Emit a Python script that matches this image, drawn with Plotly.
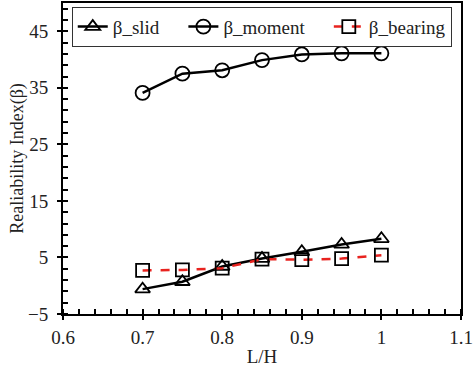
import plotly.graph_objects as go

lh = [0.7, 0.75, 0.8, 0.85, 0.9, 0.95, 1.0]
beta_slid = [-0.6, 0.7, 3.4, 4.8, 6.0, 7.3, 8.3]
beta_moment = [34.1, 37.5, 38.1, 39.9, 40.9, 41.1, 41.1]
beta_bearing = [2.7, 2.8, 3.1, 4.7, 4.6, 4.8, 5.4]

x_ticks = [0.6, 0.7, 0.8, 0.9, 1.0, 1.1]
x_labels = ["0.6", "0.7", "0.8", "0.9", "1", "1.1"]
y_ticks = [-5, 5, 15, 25, 35, 45]

FONT = "Times, serif"
TXT = "#222"

fig = go.Figure()
fig.add_trace(go.Scatter(
    x=lh, y=beta_slid, name="β_slid    ", mode="lines+markers",
    line=dict(color="black", width=2.5),
    marker=dict(symbol="triangle-up-open", size=13, color="black", line=dict(width=1.8))))
fig.add_trace(go.Scatter(
    x=lh, y=beta_moment, name="β_moment    ", mode="lines+markers",
    line=dict(color="black", width=2.5),
    marker=dict(symbol="circle-open", size=14, color="black", line=dict(width=1.8))))
fig.add_trace(go.Scatter(
    x=lh, y=beta_bearing, name="β_bearing", mode="lines+markers",
    line=dict(color="#e8231f", width=2.5, dash="dash"),
    marker=dict(symbol="square-open", size=13, color="black", line=dict(width=1.8))))

axis_common = dict(showgrid=False, zeroline=False, showline=True, linecolor="black",
                   linewidth=2, mirror=True, tickcolor="black", tickwidth=1.5,
                   tickfont=dict(family=FONT, size=19, color=TXT))

fig.update_layout(
    width=474, height=368,
    margin=dict(l=63, r=13, t=1, b=54),
    paper_bgcolor="white", plot_bgcolor="white",
    font=dict(family=FONT, size=19, color=TXT),
    showlegend=True,
    legend=dict(orientation="h", x=0.022, y=0.988, xanchor="left", yanchor="top",
                bordercolor="#333", borderwidth=1, bgcolor="white",
                font=dict(family=FONT, size=19, color=TXT),
                itemwidth=30, tracegroupgap=0),
    xaxis=dict(range=[0.6, 1.1], tickvals=x_ticks, ticktext=x_labels,
               ticks="outside", ticklen=4, ticklabelstandoff=1,
               minor=dict(dtick=0.02, tick0=0.6, ticks="inside", ticklen=5,
                          tickcolor="black", tickwidth=1.5),
               title=dict(text="L/H", font=dict(family=FONT, size=19), standoff=3),
               **axis_common),
    yaxis=dict(range=[-5, 50], tickvals=y_ticks,
               ticks="outside", ticklen=4, ticklabelstandoff=5,
               minor=dict(dtick=2, tick0=-5, ticks="inside", ticklen=5,
                          tickcolor="black", tickwidth=1.5),
               title=dict(text="Realiability Index(β)", font=dict(family=FONT, size=18), standoff=0),
               **axis_common),
    xaxis2=dict(range=[0.6, 1.1], tickvals=x_ticks, ticks="inside", ticklen=5,
                showticklabels=False, overlaying="x", showgrid=False, zeroline=False,
                tickcolor="black", tickwidth=1.5, side="bottom"),
    yaxis2=dict(range=[-5, 50], tickvals=y_ticks, ticks="inside", ticklen=5,
                showticklabels=False, overlaying="y", showgrid=False, zeroline=False,
                tickcolor="black", tickwidth=1.5, side="left"),
)
fig.add_trace(go.Scatter(x=[None], y=[None], xaxis="x2", yaxis="y2",
                         showlegend=False, hoverinfo="skip"))

fig.write_html("out.html")
